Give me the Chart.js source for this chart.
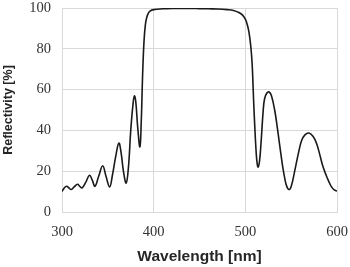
<!DOCTYPE html>
<html>
<head>
<meta charset="utf-8">
<script src="https://cdn.jsdelivr.net/npm/chart.js@4/dist/chart.umd.min.js"></script>
<style>
html,body{margin:0;padding:0;background:#fff;}
#wrap{width:350px;height:267px;position:relative;}
</style>
</head>
<body>
<div id="wrap"><canvas id="c" width="350" height="267"></canvas></div>
<script>
const wavelengths = [300,302.5,305,307.5,310,313.5,317,319.5,322,326,330,333,336,340,344.4,348,352,355,358.5,362,364.5,367,370,372.5,375,377.5,379,380.5,382.5,385,386.5,388,389.5,391,392.5,394,396,400,410,420,430,440,450,460,470,480,487,493,497,500,502,504,506,507.5,509,510.5,512,513,514,515.5,517,519.5,521,523.5,526,528.5,532,535,537.7,540.5,543,545,547.5,550,554,558,561.4,565,569.5,574,577.7,581,584.5,588.6,591,594,597,600];
const reflectivity = [10.0,11.8,12.6,11.8,11.0,12.4,13.6,12.5,11.8,14.6,18.0,15.6,12.6,17.5,22.7,17.5,12.3,18.0,27.0,33.8,29.0,20.0,14.2,22.0,40.0,53.0,56.9,54.0,42.0,31.9,45.0,68.0,84.0,92.0,95.5,97.3,98.5,99.2,99.6,99.8,99.8,99.8,99.7,99.6,99.5,99.2,98.8,97.8,96.5,94.5,92.0,88.0,81.0,72.0,55.0,40.0,28.0,23.5,22.0,25.0,33.0,49.8,55.5,58.3,58.8,57.0,50.0,41.0,32.0,23.0,16.5,12.8,11.0,12.5,20.4,29.0,35.0,37.8,38.7,37.0,33.6,28.5,22.5,17.5,15.0,12.3,10.8,10.3];
const xTicks = [300,400,500,600];
const yTicks = [0,20,40,60,80,100];
const xTitle = 'Wavelength [nm]';
const yTitle = 'Reflectivity [%]';

const points = wavelengths.map((w,i)=>({x:w,y:reflectivity[i]}));
const gridColor = '#d9d9d9';
const tickFont = {family:'"Liberation Serif", serif', size:14.5, lineHeight:1.2};

new Chart(document.getElementById('c'), {
  type:'line',
  data:{datasets:[{data:points,borderColor:'#1a1a1a',borderWidth:1.6,pointRadius:0,tension:0.4,fill:false}]},
  options:{
    responsive:false,animation:false,
    layout:{padding:{left:0,right:13,top:8,bottom:0}},
    plugins:{legend:{display:false},tooltip:{enabled:false}},
    scales:{
      x:{type:'linear',min:300,max:600,
        afterBuildTicks:s=>{s.ticks=xTicks.map(v=>({value:v}));},
        afterFit:s=>{s.height=55;s.paddingLeft=0;s.paddingRight=0;},
        grid:{color:gridColor,drawTicks:false,lineWidth:1},
        border:{color:gridColor},
        ticks:{font:tickFont,color:'#333',padding:11,maxRotation:0},
        title:{display:true,text:xTitle,font:{family:'"Liberation Sans", sans-serif',size:15.5,weight:'bold'},color:'#262626',padding:{top:0,bottom:1}}
      },
      y:{type:'linear',min:0,max:100,
        afterBuildTicks:s=>{s.ticks=yTicks.map(v=>({value:v}));},
        afterFit:s=>{s.width=62;s.paddingTop=0;s.paddingBottom=0;},
        grid:{color:gridColor,drawTicks:false,lineWidth:1},
        border:{color:gridColor},
        ticks:{font:tickFont,color:'#333',padding:11},
        title:{display:true,text:yTitle,font:{family:'"Liberation Sans", sans-serif',size:12.5,weight:'bold'},color:'#262626',padding:{top:1,bottom:0}}
      }
    }
  }
});
</script>
</body>
</html>
